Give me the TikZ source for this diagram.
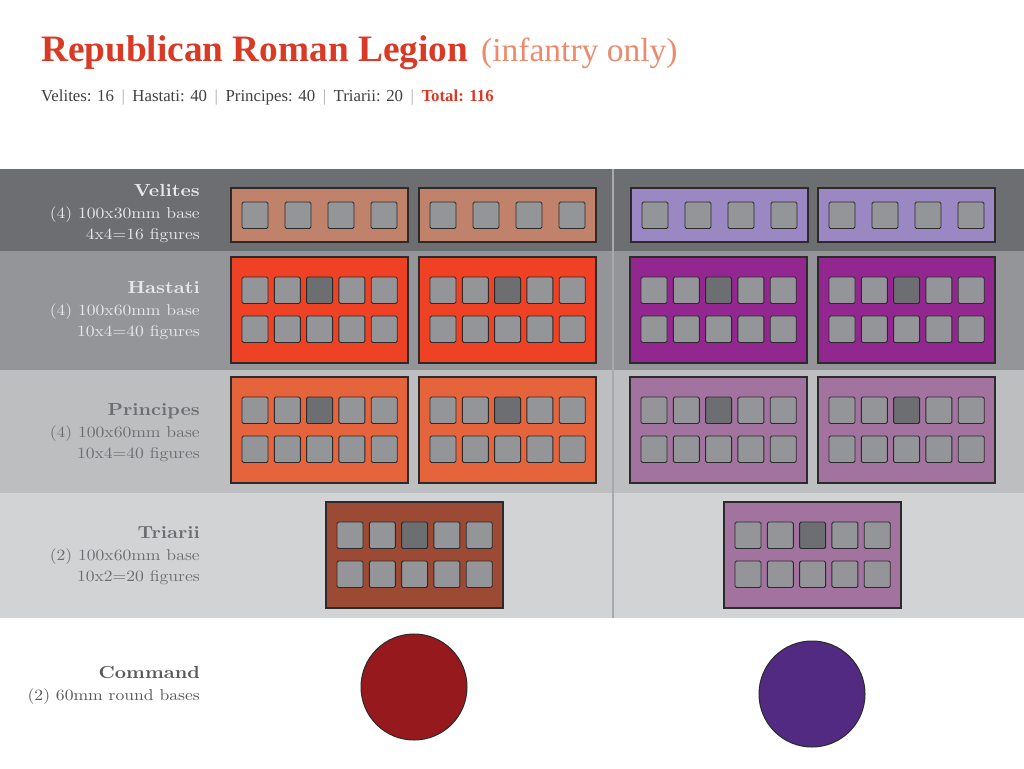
\documentclass[tikz,border=0pt]{standalone}
\usepackage{fontspec}
\newfontfamily\timesf{Liberation Serif}
\newfontfamily\labfont{lmroman10}[Extension=.otf, UprightFont=*-regular, BoldFont=*-bold, FakeStretch=1.12]
\definecolor{bandA}{HTML}{6D6E71}
\definecolor{bandB}{HTML}{939598}
\definecolor{bandC}{HTML}{BCBEC0}
\definecolor{bandD}{HTML}{D1D3D4}
\definecolor{divline}{HTML}{A7A9AC}
\definecolor{figlight}{HTML}{939598}
\definecolor{figdark}{HTML}{6D6E71}
\definecolor{edgec}{HTML}{2B2B2B}
\definecolor{velL}{HTML}{C1826C}
\definecolor{velR}{HTML}{9B87C1}
\definecolor{hasL}{HTML}{EF4123}
\definecolor{hasR}{HTML}{92278F}
\definecolor{priL}{HTML}{E5643B}
\definecolor{priR}{HTML}{A1739E}
\definecolor{triL}{HTML}{9C4A33}
\definecolor{triR}{HTML}{A1739E}
\definecolor{cmdL}{HTML}{961A1D}
\definecolor{cmdR}{HTML}{522A82}
\definecolor{titlered}{HTML}{D93A26}
\definecolor{titlelight}{HTML}{EC8B6C}
\definecolor{subgray}{HTML}{414042}
\definecolor{lablight}{HTML}{E6E7E8}
\definecolor{labdark}{HTML}{6D6E71}
\definecolor{labcmd}{HTML}{58595B}
\tikzset{
  basebox/.style={draw=edgec, line width=1.1pt, rectangle, anchor=north west, inner sep=0pt, outer sep=0pt, minimum width=177pt},
  figbox/.style={draw=edgec, line width=0.9pt, rectangle, rounded corners=1.5pt, anchor=north west, inner sep=0pt, outer sep=0pt, minimum width=26pt, minimum height=26.5pt, fill=figlight},
  figdk/.style={figbox, fill=figdark},
  labname/.style={anchor=base east, inner sep=0pt, font=\labfont\fontsize{17.5}{22}\selectfont\bfseries},
  labline/.style={anchor=base east, inner sep=0pt, font=\labfont\fontsize{15.7}{22}\selectfont},
  cmdbase/.style={circle, draw=edgec, line width=1pt, minimum size=106pt, inner sep=0pt}
}
% small base: name, x, y, colour
\newcommand\smallbase[4]{%
  \node[basebox, minimum height=54pt, fill=#4] (#1) at (#2,#3) {};
  \foreach \i in {0,...,3}{
    \node[figbox] (#1-f\i) at ({#2+11+43*\i},{#3+14}) {};
  }
}
% large base: name, x, y, colour
\newcommand\largebase[4]{%
  \node[basebox, minimum height=106pt, fill=#4] (#1) at (#2,#3) {};
  \foreach \i in {0,...,4}{
    \ifnum\i=2
      \node[figdk] (#1-a\i) at ({#2+11+32.3*\i},{#3+20}) {};
    \else
      \node[figbox] (#1-a\i) at ({#2+11+32.3*\i},{#3+20}) {};
    \fi
    \node[figbox] (#1-b\i) at ({#2+11+32.3*\i},{#3+59}) {};
  }
}
\newcommand\barsep{\hspace{0.45em}{\color{divline}|}\hspace{0.45em}}
\begin{document}
\begin{tikzpicture}[x=1pt,y=-1pt]
\useasboundingbox[fill=white] (0,0) rectangle (1024,768);
% bands
\fill[bandA] (0,169) rectangle (1024,251);
\fill[bandB] (0,251) rectangle (1024,370);
\fill[bandC] (0,370) rectangle (1024,493);
\fill[bandD] (0,493) rectangle (1024,618);
\draw[divline, line width=1.6pt] (613,169) -- (613,618);
% title
\node[anchor=base west, inner sep=0pt, text=titlered] (title) at (41,61)
  {\timesf\fontsize{37.3}{40}\selectfont\bfseries Republican Roman Legion\hspace{0.35em}{\mdseries\color{titlelight}\fontsize{33.5}{40}\selectfont(infantry only)}};
\node[anchor=base west, inner sep=0pt, text=subgray] (subtitle) at (41,101)
  {\timesf\fontsize{16.8}{18}\selectfont Velites: 16\barsep Hastati: 40\barsep Principes: 40\barsep Triarii: 20\barsep{\color{titlered}\bfseries Total: 116}};
% labels
\node[labname, text=lablight] (velN) at (200,196) {Velites};
\node[labline, text=lablight] (velA) at (200,218) {(4) 100x30mm base};
\node[labline, text=lablight] (velB) at (200,239) {4x4=16 figures};
\node[labname, text=lablight] (hasN) at (200,293) {Hastati};
\node[labline, text=lablight] (hasA) at (200,315) {(4) 100x60mm base};
\node[labline, text=lablight] (hasB) at (200,336) {10x4=40 figures};
\node[labname, text=labdark] (priN) at (200,415) {Principes};
\node[labline, text=labdark] (priA) at (200,437) {(4) 100x60mm base};
\node[labline, text=labdark] (priB) at (200,458) {10x4=40 figures};
\node[labname, text=labdark] (triN) at (200,538) {Triarii};
\node[labline, text=labdark] (triA) at (200,560) {(2) 100x60mm base};
\node[labline, text=labdark] (triB) at (200,581) {10x2=20 figures};
\node[labname, text=labcmd] (cmdN) at (200,678) {Command};
\node[labline, text=labcmd] (cmdA) at (200,700) {(2) 60mm round bases};
% velites
\smallbase{v1}{231}{188}{velL}
\smallbase{v2}{419}{188}{velL}
\smallbase{v3}{631}{188}{velR}
\smallbase{v4}{818}{188}{velR}
% hastati
\largebase{h1}{231}{257}{hasL}
\largebase{h2}{419}{257}{hasL}
\largebase{h3}{630}{257}{hasR}
\largebase{h4}{818}{257}{hasR}
% principes
\largebase{p1}{231}{377}{priL}
\largebase{p2}{419}{377}{priL}
\largebase{p3}{630}{377}{priR}
\largebase{p4}{818}{377}{priR}
% triarii
\largebase{t1}{326}{502}{triL}
\largebase{t2}{724}{502}{triR}
% command
\node[cmdbase, fill=cmdL] (c1) at (414,687) {};
\node[cmdbase, fill=cmdR] (c2) at (812,694) {};
\end{tikzpicture}
\end{document}
